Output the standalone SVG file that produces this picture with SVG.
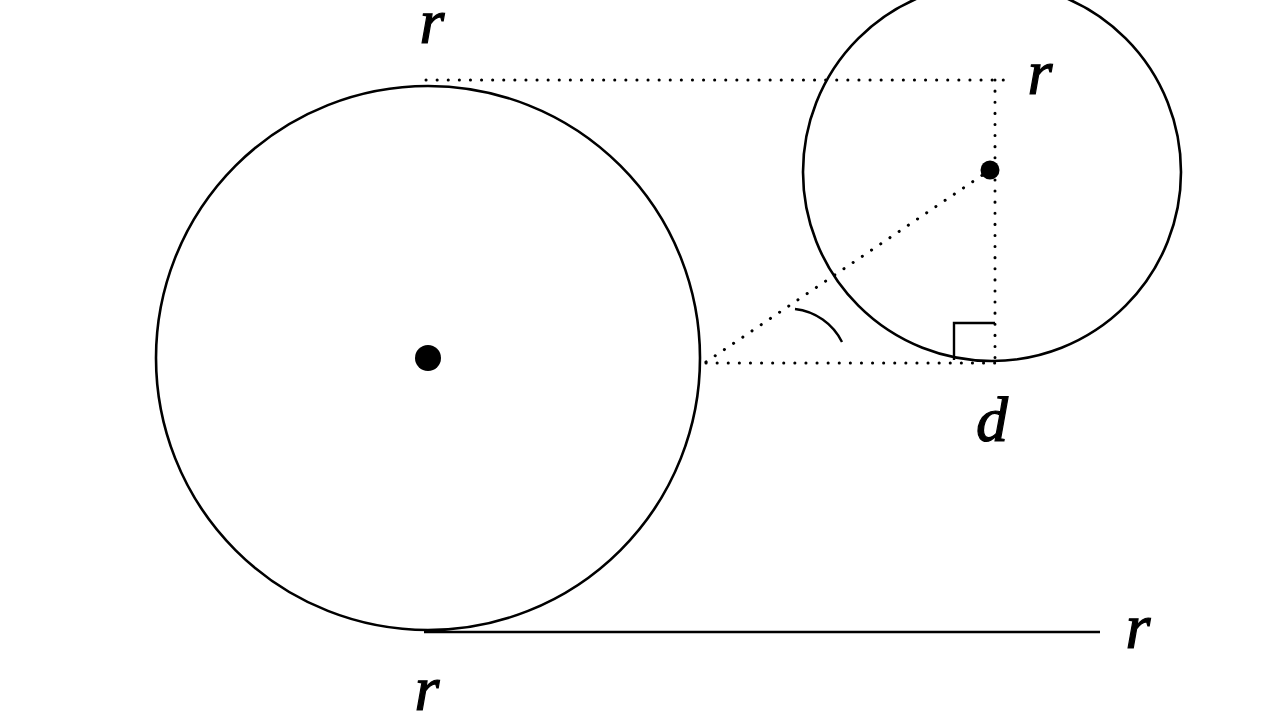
<svg xmlns="http://www.w3.org/2000/svg" width="1280" height="720" viewBox="0 0 1280 720">
<style>
.c{fill:none;stroke:#000;stroke-width:2.6}
.dot{fill:none;stroke:#000;stroke-width:3;stroke-linecap:round;stroke-dasharray:0.1 11}
.s{fill:none;stroke:#000;stroke-width:2.4}
.t{font-family:"Liberation Serif",serif;font-style:italic;font-size:64px;fill:#000;stroke:#000;stroke-width:1.2;text-anchor:middle}
</style>
<rect width="1280" height="720" fill="#fff"/>
<g id="bigCircle">
<circle class="c" cx="428" cy="358" r="272"/>
<circle cx="428" cy="358" r="13" fill="#000"/>
</g>
<g id="smallCircle">
<circle class="c" cx="992" cy="172" r="189"/>
<circle cx="990" cy="170" r="9.5" fill="#000"/>
</g>
<g id="connectors">
<line class="dot" x1="426" y1="80" x2="1004" y2="80"/>
<line class="dot" x1="995" y1="80" x2="995" y2="362"/>
<line class="dot" x1="706" y1="363" x2="995" y2="363"/>
<line class="dot" x1="706" y1="362" x2="990" y2="170"/>
<path class="s" d="M795,309 A60 60 0 0 1 842,342"/>
<path class="s" d="M954,360 V323 H995"/>
<line class="s" x1="424" y1="632" x2="1100" y2="632"/>
</g>
<g id="labels">
<text class="t" x="432" y="43">r</text>
<text class="t" x="1040" y="94">r</text>
<text class="t" x="992" y="441">d</text>
<text class="t" x="1138" y="648">r</text>
<text class="t" x="427" y="710">r</text>
</g>
</svg>
